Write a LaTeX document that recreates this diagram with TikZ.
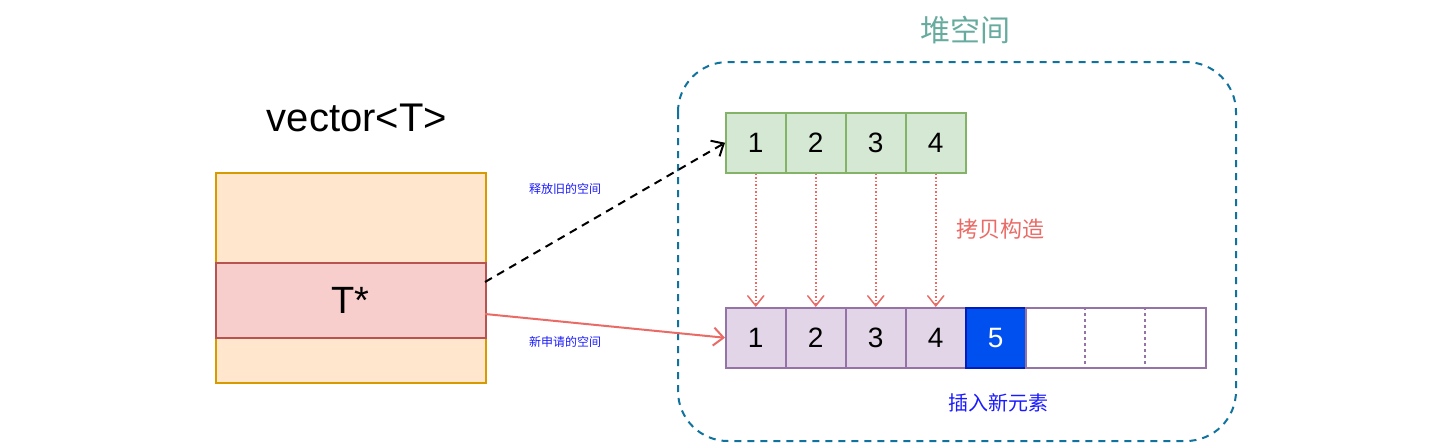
\documentclass[tikz,border=0pt]{standalone}
\usepackage{fontspec}
\setmainfont{Liberation Sans}
\newfontfamily\cjk{Noto Sans CJK SC}
\usetikzlibrary{arrows.meta}
\definecolor{orfill}{HTML}{FFE6CC}\definecolor{orline}{HTML}{D79B00}
\definecolor{rdfill}{HTML}{F8CECC}\definecolor{rdline}{HTML}{B85450}
\definecolor{grfill}{HTML}{D5E8D4}\definecolor{grline}{HTML}{82B366}
\definecolor{pufill}{HTML}{E1D5E7}\definecolor{puline}{HTML}{9673A6}
\definecolor{blfill}{HTML}{0050EF}\definecolor{blline}{HTML}{001DBC}
\definecolor{heap}{HTML}{10739E}\definecolor{heaptxt}{HTML}{67AB9F}
\definecolor{arr}{HTML}{EA6B66}\definecolor{lbl}{HTML}{1A1AFF}
\tikzset{
 cell/.style={draw, line width=1.5pt, minimum width=60pt, minimum height=60pt, inner sep=0, font=\fontsize{28}{30}\selectfont, anchor=north west},
 gcell/.style={cell, fill=grfill, draw=grline},
 pcell/.style={cell, fill=pufill, draw=puline},
 copyarr/.style={arr, line width=1.5pt, dotted, -{Straight Barb[length=10pt,width=16pt,line width=1.5pt,line cap=round]}},
 smalllbl/.style={text=lbl, font=\cjk\fontsize{12}{14}\selectfont}
}
\begin{document}
\begin{tikzpicture}[x=1pt,y=-1pt]
\useasboundingbox (0,0) rectangle (1452,447);
\node[draw=orline, fill=orfill, line width=1.5pt, minimum width=270pt, minimum height=210pt, inner sep=0, anchor=north west] (vec) at (215,172) {};
\node[draw=rdline, fill=rdfill, line width=1.5pt, minimum width=270pt, minimum height=75pt, inner sep=0, anchor=north west, font=\fontsize{38}{40}\selectfont] (tp) at (215,262) {T*};
\node[font=\fontsize{40}{42}\selectfont] (title) at (357,118) {vector<T>};
\draw[heap, line width=2pt, dash pattern=on 7pt off 6pt, rounded corners=50pt] (678,62) rectangle (1236,441);
\node[text=heaptxt, font=\cjk\fontsize{30}{32}\selectfont] (heapl) at (965,30) {堆空间};
\foreach \i in {1,...,4}{
 \node[gcell] (g\i) at ({725+60*(\i-1)},112) {\i};
 \node[pcell] (p\i) at ({725+60*(\i-1)},307) {\i};
 \draw[copyarr] (g\i.south) -- (p\i.north);
}
\node[cell, fill=blfill, draw=blline, text=white] (p5) at (965,307) {5};
\node[draw=puline, line width=1.5pt, minimum width=180pt, minimum height=60pt, inner sep=0, anchor=north west] (empty) at (1025,307) {};
\draw[puline, line width=1.5pt, dashed] (1085,307) -- (1085,367) (1145,307) -- (1145,367);
\node[text=arr, font=\cjk\fontsize{22}{24}\selectfont] (copyl) at (1000,229) {拷贝构造};
\node[text=lbl, font=\cjk\fontsize{20}{22}\selectfont] (insl) at (998,403) {插入新元素};
\coordinate (s1) at (485,282);
\coordinate (s2) at (485,314);
\draw[line width=2pt, dash pattern=on 8pt off 6pt, -{Straight Barb[length=10pt,width=18pt,line width=2pt]}] (s1) -- (g1.west);
\draw[arr, line width=2pt, -{Straight Barb[length=10pt,width=18pt,line width=2pt]}] (s2) -- (p1.west);
\node[smalllbl] (l1) at (565,189) {释放旧的空间};
\node[smalllbl] (l2) at (565,342) {新申请的空间};
\end{tikzpicture}
\end{document}
